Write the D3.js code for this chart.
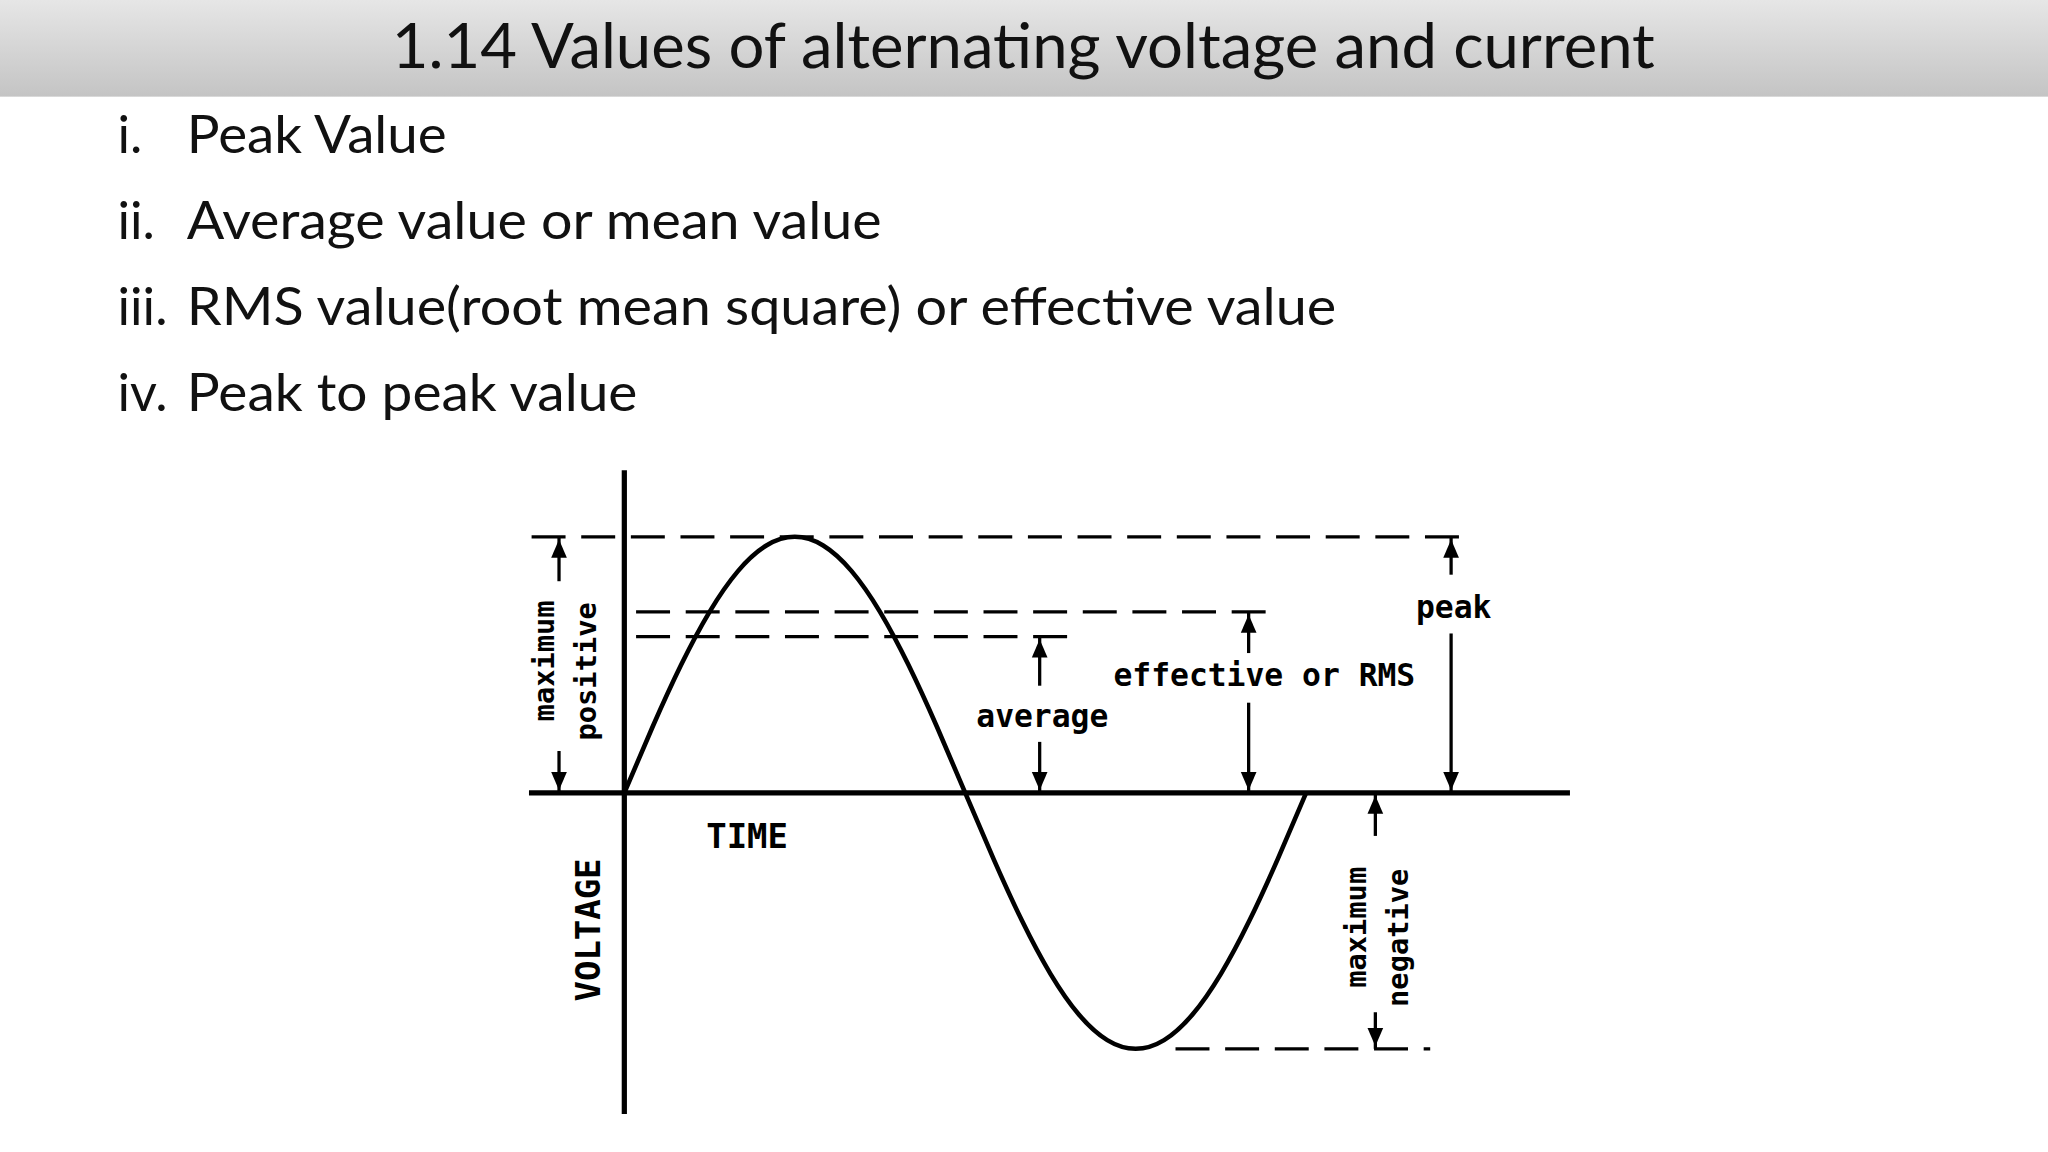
<!DOCTYPE html>
<html><head><meta charset="utf-8">
<script src="https://cdn.jsdelivr.net/npm/d3@7/dist/d3.min.js"></script>
<style>html,body{margin:0;padding:0;background:#fff;overflow:hidden}</style>
</head><body><svg id="c" width="2048" height="1152" viewBox="0 0 1568 882"></svg>
<script>
const title = "1.14 Values of alternating voltage and current";
const listNums = ["i.", "ii.", "iii.", "iv."];
const listItems = ["Peak Value", "Average value or mean value", "RMS value(root mean square) or effective value", "Peak to peak value"];
// one cycle sampled every 15 degrees (fraction of period, normalized voltage)
const phase = [0,1/24,2/24,3/24,4/24,5/24,6/24,7/24,8/24,9/24,10/24,11/24,12/24,13/24,14/24,15/24,16/24,17/24,18/24,19/24,20/24,21/24,22/24,23/24,1];
const voltage = [0,0.259,0.5,0.707,0.866,0.966,1,0.966,0.866,0.707,0.5,0.259,0,-0.259,-0.5,-0.707,-0.866,-0.966,-1,-0.966,-0.866,-0.707,-0.5,-0.259,0];
const levels = {peak:1, rms:0.707, average:0.61};

const svg = d3.select("#c");
const defs = svg.append("defs");
const g = defs.append("linearGradient").attr("id","tb").attr("x1",0).attr("y1",0).attr("x2",0).attr("y2",1);
g.append("stop").attr("offset","0").attr("stop-color","#e6e6e6");
g.append("stop").attr("offset","1").attr("stop-color","#c4c4c4");
svg.append("rect").attr("x",0).attr("y",0).attr("width",1568).attr("height",74).attr("fill","url(#tb)");
svg.append("text").attr("x",300).attr("y",52).attr("textLength",967).attr("lengthAdjust","spacingAndGlyphs").attr("font-family","Lato, 'Open Sans', sans-serif").attr("font-size",47).attr("fill","#111").text(title);
const itemW = [199,532,880,345];
listItems.forEach((t,i)=>{
  const y = 117 + i*66;
  svg.append("text").attr("x",90).attr("y",y).attr("font-family","Lato, 'Open Sans', sans-serif").attr("font-size",40).attr("fill","#111").text(listNums[i]);
  svg.append("text").attr("x",143).attr("y",y).attr("textLength",itemW[i]).attr("lengthAdjust","spacingAndGlyphs").attr("font-family","Lato, 'Open Sans', sans-serif").attr("font-size",40).attr("fill","#111").text(t);
});

const x = d3.scaleLinear().domain([0,1]).range([478,1000]);
const y = d3.scaleLinear().domain([-1,1]).range([803,411]);
const y0 = y(0);
const D = svg.append("g");
function line(x1,y1,x2,y2,w,dash){const l=D.append("line").attr("x1",x1).attr("y1",y1).attr("x2",x2).attr("y2",y2).attr("stroke","#000").attr("stroke-width",w); if(dash) l.attr("stroke-dasharray",dash); return l;}
line(478,360,478,853,4);
line(405,y0,1202,y0,4);
line(407,y(levels.peak),1128,y(levels.peak),2.5,"26 12");
line(487,y(levels.rms),978,y(levels.rms),2.5,"26 12");
line(487,y(levels.average),820,y(levels.average),2.5,"26 12");
line(900,y(-1),1095,y(-1),2.5,"26 12");
D.append("path").datum(phase.map((p,i)=>[p,voltage[i]]))
 .attr("d",d3.line().x(d=>x(d[0])).y(d=>y(d[1])).curve(d3.curveNatural))
 .attr("fill","none").attr("stroke","#000").attr("stroke-width",3.5);
function head(xx,yy,dir){
  D.append("path").attr("d",`M${xx},${yy} L${xx-6},${yy-dir*14} L${xx+6},${yy-dir*14} Z`).attr("fill","#000");
}
function arrow(xx,ya,yb,gaps){
  let segs=[[ya,yb]];
  gaps.forEach(([a,b])=>{segs=segs.flatMap(([s,e])=> (b<=s||a>=e)?[[s,e]]:[[s,a],[b,e]].filter(q=>q[1]>q[0]));});
  segs.forEach(([s,e])=>line(xx,s,xx,e,2.5));
  head(xx,ya+2,-1); head(xx,yb-2,1);
}
arrow(428,y(1),y0,[[445,575]]);
arrow(796,y(levels.average),y0,[[525,568]]);
arrow(956,y(levels.rms),y0,[[500,538]]);
arrow(1111,y(1),y0,[[440,485]]);
arrow(1053,y0,y(-1),[[640,775]]);
const mono = "'DejaVu Sans Mono', monospace";
function lab(t,xx,yy,rot,size){
  return svg.append("text").attr("font-family",mono).attr("font-weight","bold").attr("font-size",size||24).attr("fill","#000").attr("text-anchor","middle")
   .attr("dominant-baseline","middle").attr("transform",`translate(${xx},${yy}) rotate(${rot||0})`).text(t);
}
lab("maximum",418,506,-90,22);
lab("positive",450,514,-90,22);
lab("average",798,550,0);
lab("effective or RMS",968,518,0);
lab("peak",1113,466,0);
lab("TIME",572,642,0,26);
lab("VOLTAGE",452,712,-90,26);
lab("maximum",1040,710,-90,22);
lab("negative",1072,718,-90,22);
</script></body></html>
